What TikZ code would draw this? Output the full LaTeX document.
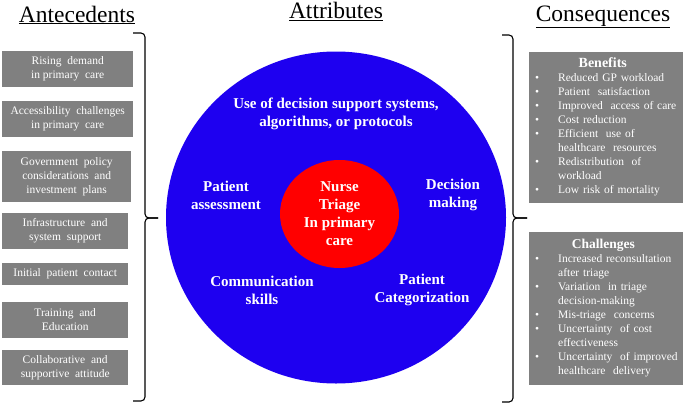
\documentclass[tikz,border=0pt]{standalone}
\usepackage{fontspec}
\setmainfont{Liberation Serif}
\definecolor{attrblue}{RGB}{30,0,240}
\definecolor{boxgray}{RGB}{128,128,128}

\begin{document}
\begin{tikzpicture}[x=1pt,y=-1pt,
    antbox/.style={fill=boxgray, text=white, align=center, anchor=west, inner sep=0pt,
        font=\fontsize{11.5}{14}\selectfont},
    conbox/.style={fill=boxgray, text=white, anchor=north west, inner sep=0pt,
        text width=154pt, align=left, font=\fontsize{11.5}{14}\selectfont},
    headtext/.style={anchor=base, font=\fontsize{23.5}{28}\selectfont},
    attrtext/.style={text=white, align=center, font=\bfseries\fontsize{15}{18}\selectfont},
    bracket/.style={line width=1.1pt, rounded corners=4pt}]
    \useasboundingbox (0,0) rectangle (685,407);

    % Headings
    \node[headtext] (antecedents) at (77,22) {\underline{Antecedents}};
    \node[headtext] (attributes) at (336,18.5) {\underline{Attributes}};
    \node[headtext] (consequences) at (603,21) {\underline{Consequences}};

    % Circles
    \coordinate (O) at (336,217.5);
    \coordinate (M) at (339.5,214);
    \fill[attrblue] (O) ellipse [x radius=170, y radius=166];
    \fill[red] (M) ellipse [x radius=59.5, y radius=54];

    % Attributes
    \node[attrtext] (support) at (336,114) {Use of decision support systems,\\algorithms, or protocols};
    \node[attrtext] (assessment) at (226,195) {Patient\\assessment};
    \node[attrtext] (triage) at (M) {Nurse\\Triage\\In primary\\care};
    \node[attrtext] (decision) at (453,195) {Decision\\making};
    \node[attrtext] (communication) at (262,290) {Communication\\skills};
    \node[attrtext] (categorization) at (422,290) {Patient\\Categorization};

    % Antecedents
    \node[antbox, minimum width=131, minimum height=36] (rising) at (2,69) {Rising\ \ demand\\in primary\ \ care};
    \node[antbox, minimum width=131, minimum height=36] (access) at (2,119) {Accessibility\ \ challenges\\in primary\ \ care};
    \node[antbox, minimum width=129, minimum height=51] (policy) at (2,176.5) {Government\ \ policy\\considerations\ \ and\\investment\ \ plans};
    \node[antbox, minimum width=126, minimum height=36] (infra) at (2,231) {Infrastructure\ \ and\\system\ \ support};
    \node[antbox, minimum width=126, minimum height=22] (contact) at (2,274) {Initial\ \ patient\ \ contact};
    \node[antbox, minimum width=126, minimum height=36] (training) at (2,320) {Training\ \ and\\Education};
    \node[antbox, minimum width=126, minimum height=35] (attitude) at (2,367.5) {Collaborative\ \ and\\supportive\ \ attitude};

    % Brackets
    \coordinate (ltip) at (158,218);
    \coordinate (rtip) at (527,218);
    \draw[bracket] (133,33) -- (145,33) -- (145,218) -- (ltip);
    \draw[bracket] (133,401) -- (145,401) -- (145,218) -- (ltip);
    \draw[bracket] (502,35) -- (513,35) -- (513,218) -- (rtip);
    \draw[bracket] (502,402) -- (513,402) -- (513,218) -- (rtip);

    % Consequences
    \node[conbox, minimum height=151] (benefits) at (529,52) {%
        \begin{tabular}{@{\hspace{6pt}}p{23pt}@{}l@{}}
        \multicolumn{2}{c}{\fontsize{14}{14}\selectfont\bfseries Benefits}\\
        \textbullet & Reduced GP workload\\
        \textbullet & Patient\ \ satisfaction\\
        \textbullet & Improved\ \ access of care\\
        \textbullet & Cost reduction\\
        \textbullet & Efficient\ \ use of\\
                    & healthcare\ \ resources\\
        \textbullet & Redistribution\ \ of\\
                    & workload\\
        \textbullet & Low risk\ of mortality
        \end{tabular}};
    \node[conbox, minimum height=153] (challenges) at (529,232) {%
        \begin{tabular}{@{\hspace{6pt}}p{23pt}@{}l@{}}
        \multicolumn{2}{c}{\fontsize{13.5}{14}\selectfont\bfseries Challenges}\\
        \textbullet & Increased reconsultation\\
                    & after triage\\
        \textbullet & Variation\ \ in triage\\
                    & decision-making\\
        \textbullet & Mis-triage\ \ concerns\\
        \textbullet & Uncertainty\ \ of cost\\
                    & effectiveness\\
        \textbullet & Uncertainty\ \ of improved\\
                    & healthcare\ \ delivery
        \end{tabular}};
\end{tikzpicture}
\end{document}
